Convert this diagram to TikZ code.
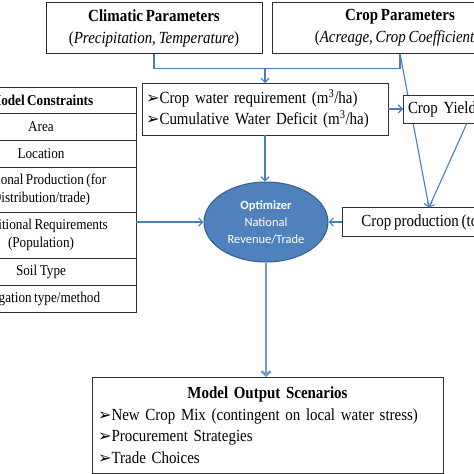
\documentclass[tikz,border=0pt]{standalone}
\usepackage{fontspec}
\setmainfont{Liberation Serif}[FakeStretch=0.88,WordSpace=0.75]
\newfontfamily\calib{Carlito}
\newfontfamily\dingfont{DejaVu Sans}
\usetikzlibrary{positioning,arrows.meta,shapes.geometric}
\definecolor{linkblue}{HTML}{4A7EBB}
\definecolor{fatblue}{HTML}{7399CC}
\definecolor{optfill}{HTML}{4F81BD}
\definecolor{optline}{HTML}{385D8A}
\definecolor{boxline}{HTML}{303030}
\newcommand{\bull}{{\dingfont\scalebox{0.95}{\char"27A2}}}
\tikzset{
  box/.style={draw=boxline,line width=0.9pt,fill=white,outer sep=0pt,align=center,
    font=\fontsize{17}{22}\selectfont},
  cell/.style={box,minimum width=190,inner sep=0pt,font=\fontsize{15}{18}\selectfont},
  link/.style={draw=linkblue,line width=1.1pt},
  arr/.style={link,-{Straight Barb[length=4pt,width=8pt]}},
  fatarr/.style={draw=fatblue,line width=2.6pt,-{Straight Barb[length=4pt,width=9pt]}}
}
\begin{document}
\begin{tikzpicture}[x=1pt,y=-1pt]
  \useasboundingbox (0,0) rectangle (474,474);
  \clip (0,0) rectangle (474,474);

  \node[box,minimum width=216,minimum height=51] (clim) at (154,28)
    {\textbf{Climatic Parameters}\\(\textit{Precipitation}, \textit{Temperature})};
  \node[box,minimum width=256,minimum height=51] (crop) at (400,28)
    {\textbf{Crop Parameters}\\(\textit{Acreage}, \textit{Crop Coefficients})};
  \node[box,minimum height=52,text width=238,inner xsep=4pt,align=left,
    font=\fontsize{17}{21}\selectfont] (cwr) at (265,109)
    {\bull Crop water requirement (m\textsuperscript{3}/ha)\\
     \bull Cumulative Water Deficit (m\textsuperscript{3}/ha)};
  \node[box,minimum width=174,minimum height=29] (prod) at (429,222)
    {Crop production (tons)};
  \node[ellipse,draw=optline,line width=1pt,fill=optfill,minimum width=124,
    minimum height=80,inner sep=0pt,text=white,align=center,
    font=\calib\fontsize{12.5}{17}\selectfont] (opt) at (266,222)
    {\textbf{Optimizer}\\National\\Revenue/Trade};

  \begin{scope}[every node/.style={cell}]
    \node[minimum height=26] (cons) at (41,100) {\textbf{Model Constraints}};
    \node[minimum height=27,below=0pt of cons] (area) {Area};
    \node[minimum height=27,below=0pt of area] (loc) {Location};
    \node[minimum height=45,below=0pt of loc] (reg) {Regional Production (for\\Distribution/trade)};
    \node[minimum height=46,below=0pt of reg] (nutr) {Nutritional Requirements\\(Population)};
    \node[minimum height=27,below=0pt of nutr] (soil) {Soil Type};
    \node[minimum height=27,below=0pt of soil] (irr) {Irrigation type/method};
  \end{scope}

  \node[box,minimum height=96,text width=339,inner xsep=6pt,align=left,
    font=\fontsize{17}{21.5}\selectfont] (out) at (267.5,425)
    {\makebox[\linewidth]{\textbf{Model Output Scenarios}}\\
     \bull New Crop Mix (contingent on local water stress)\\
     \bull Procurement Strategies\\
     \bull Trade Choices};

  \draw[link] (clim.south) -- ++(0,15) coordinate (join) -| (crop.south);
  \coordinate (drop) at (cwr.north |- join);
  \draw[arr] (drop) -- (cwr.north);
  \draw[arr] (crop.south) -- (prod.north);

  \node[box,minimum height=28,text width=118,inner xsep=5pt,align=left] (yield) at (467,109) {Crop Yield};

  \draw[arr] (cwr.east) -- (yield.west);
  \draw[arr] (yield.south) -- (prod.north);
  \draw[arr] (cwr.south) -- (cwr.south |- opt.north);
  \draw[arr] (opt.west -| cons.east) -- (opt.west);
  \draw[arr] (prod.west) -- (opt.east);
  \draw[fatarr] (opt.south) -- (opt.south |- out.north);
\end{tikzpicture}
\end{document}
